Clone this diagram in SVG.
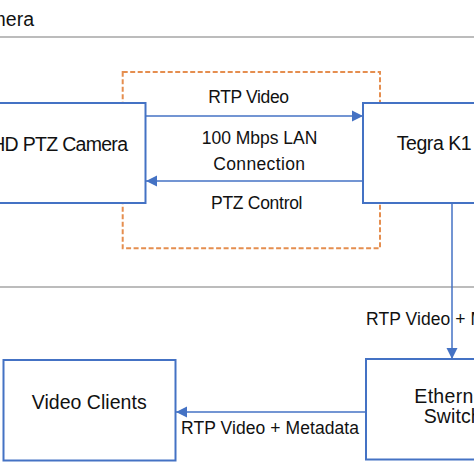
<svg xmlns="http://www.w3.org/2000/svg" width="474" height="474" viewBox="0 0 474 474">
  <style>
    .node { fill: #ffffff; stroke: #4472C4; stroke-width: 2; }
    .ntext { font-family: "Liberation Sans", Arial, sans-serif; font-size: 19.5px; fill: #111111; }
    .ltext { font-family: "Liberation Sans", Arial, sans-serif; font-size: 17.5px; fill: #111111; }
    .conn { stroke: #4472C4; stroke-width: 1.5; fill: none; marker-end: url(#arrow); }
    .sep { stroke: #a6a6a6; stroke-width: 1.5; }
  </style>
  <defs>
    <marker id="arrow" markerUnits="userSpaceOnUse" markerWidth="11" markerHeight="12" refX="11" refY="6" orient="auto">
      <path d="M0,0.5 L11,6 L0,11.5 z" fill="#4472C4"/>
    </marker>
  </defs>
  <rect width="474" height="474" fill="#ffffff"/>

  <!-- section separators -->
  <line class="sep" x1="0" y1="37" x2="474" y2="37"/>
  <line class="sep" x1="0" y1="287" x2="474" y2="287"/>
  <text class="ntext" x="34" y="26" text-anchor="end">Camera</text>

  <!-- LAN connection dashed region -->
  <rect x="122.7" y="72" width="257.3" height="176.3" fill="none" stroke="#E58E4F" stroke-width="2" stroke-dasharray="5,2.5"/>

  <g id="connectors">
    <line class="conn" x1="146" y1="116" x2="363" y2="116"/>
    <line class="conn" x1="364" y1="181" x2="146" y2="181"/>
    <line class="conn" x1="452" y1="203" x2="452" y2="359"/>
    <line class="conn" x1="366" y1="412" x2="176" y2="412"/>
    <text class="ltext" x="208.3" y="103" textLength="80.7">RTP Video</text>
    <text class="ltext" x="201.7" y="144" textLength="115.6">100 Mbps LAN</text>
    <text class="ltext" x="213.3" y="170" textLength="91.7">Connection</text>
    <text class="ltext" x="211" y="208.5" textLength="91.5">PTZ Control</text>
    <text class="ltext" x="366" y="325" textLength="178">RTP Video + Metadata</text>
    <text class="ltext" x="181" y="433.5" textLength="178">RTP Video + Metadata</text>
  </g>

  <g id="camera">
    <rect class="node" x="-40" y="103" width="185.5" height="100"/>
    <text class="ntext" x="-8.8" y="151" textLength="136.8">HD PTZ Camera</text>
  </g>

  <g id="tegra">
    <rect class="node" x="363" y="103" width="180" height="100"/>
    <text class="ntext" x="396.7" y="150" textLength="75">Tegra K1</text>
  </g>

  <g id="video-clients">
    <rect class="node" x="3.5" y="360" width="172" height="100.5"/>
    <text class="ntext" x="31.7" y="408.5" textLength="115">Video Clients</text>
  </g>

  <g id="ethernet-switch">
    <rect class="node" x="366" y="359" width="180" height="100.5"/>
    <text class="ntext" x="414.3" y="403" textLength="76">Ethernet</text>
    <text class="ntext" x="423.7" y="422.5" textLength="58">Switch</text>
  </g>
</svg>
